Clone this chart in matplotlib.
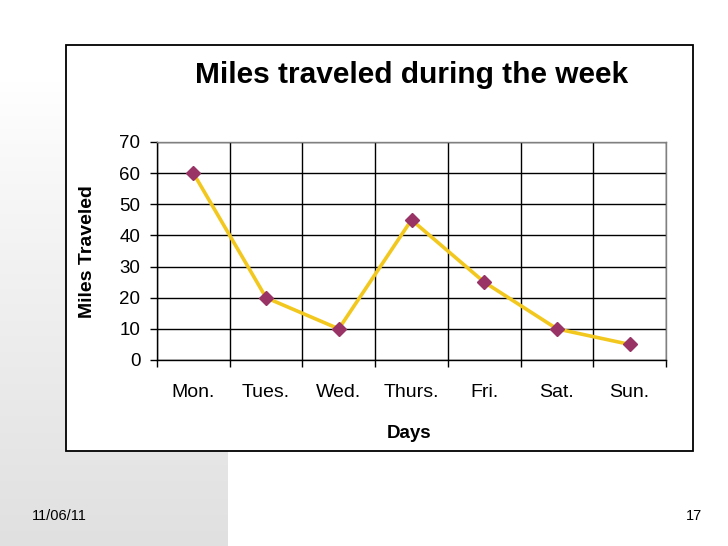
import numpy as np
import matplotlib
matplotlib.use("Agg")
import matplotlib.pyplot as plt
from matplotlib.patches import Rectangle

days = ["Mon.", "Tues.", "Wed.", "Thurs.", "Fri.", "Sat.", "Sun."]
miles = [60, 20, 10, 45, 25, 10, 5]
y_ticks = [0, 10, 20, 30, 40, 50, 60, 70]

plt.rcParams['font.family'] = ['Liberation Sans', 'DejaVu Sans']

W, H = 728, 546
fig = plt.figure(figsize=(W / 100, H / 100), dpi=100)
fig.patch.set_facecolor("white")

# faint grey gradient band at the left of the slide
bg = fig.add_axes([0, 0, 1, 1], zorder=-10)
bg.set_xlim(0, W)
bg.set_ylim(H, 0)
bg.axis("off")
rows = np.linspace(0, 1, 200)
alpha = rows ** 0.9
img = np.ones((200, 1, 4))
img[:, 0, :3] = 0.88
img[:, 0, 3] = alpha
bg.imshow(img, extent=[0, 228, H, 80], aspect="auto", interpolation="bilinear")

# chart frame
fig.patches.append(Rectangle((66 / W, (H - 451) / H), (693 - 66) / W, (451 - 45) / H,
                             transform=fig.transFigure, facecolor="white",
                             edgecolor="black", linewidth=1.3, zorder=-5))

ax = fig.add_axes([157 / W, (H - 360) / H, (666 - 157) / W, (360 - 142) / H])
x = np.arange(len(days))
ax.plot(x, miles, color="#F2C81E", linewidth=2.6, zorder=3)
ax.plot(x, miles, linestyle="none", marker="D", markersize=7,
        markerfacecolor="#993366", markeredgecolor="#993366", zorder=4)

ax.set_xlim(-0.5, len(days) - 0.5)
ax.set_ylim(0, 70)
ax.set_yticks(y_ticks)
ax.set_yticklabels([str(v) for v in y_ticks], fontsize=13.5)
ax.set_xticks(x)
ax.set_xticklabels(days, fontsize=14)
ax.set_xticks(np.arange(-0.5, len(days), 1.0), minor=True)
ax.tick_params(axis="x", which="major", length=0, pad=17)
ax.tick_params(axis="x", which="minor", length=5, width=1, direction="out", color="black")
ax.tick_params(axis="y", which="major", length=5, width=1, direction="out", pad=7, color="black")

ax.grid(axis="y", which="major", color="black", linewidth=1)
ax.grid(axis="x", which="minor", color="black", linewidth=1)
ax.set_axisbelow(True)
for s in ["left", "bottom"]:
    ax.spines[s].set_color("black")
    ax.spines[s].set_linewidth(1)
for s in ["top", "right"]:
    ax.spines[s].set_color("#808080")
    ax.spines[s].set_linewidth(1)

fig.text(412 / W, (H - 75) / H, "Miles traveled during the week", fontsize=21.5,
         fontweight="bold", ha="center", va="center")
fig.text(87 / W, (H - 252) / H, "Miles Traveled", fontsize=14, fontweight="bold",
         rotation=90, ha="center", va="center")
fig.text(409 / W, (H - 433) / H, "Days", fontsize=13.5, fontweight="bold",
         ha="center", va="center")

fig.text(32 / W, (H - 516) / H, "11/06/11", fontsize=10.5, ha="left", va="center")
fig.text(702 / W, (H - 516) / H, "17", fontsize=10.5, ha="right", va="center")

fig.savefig("out.png", dpi=100)
